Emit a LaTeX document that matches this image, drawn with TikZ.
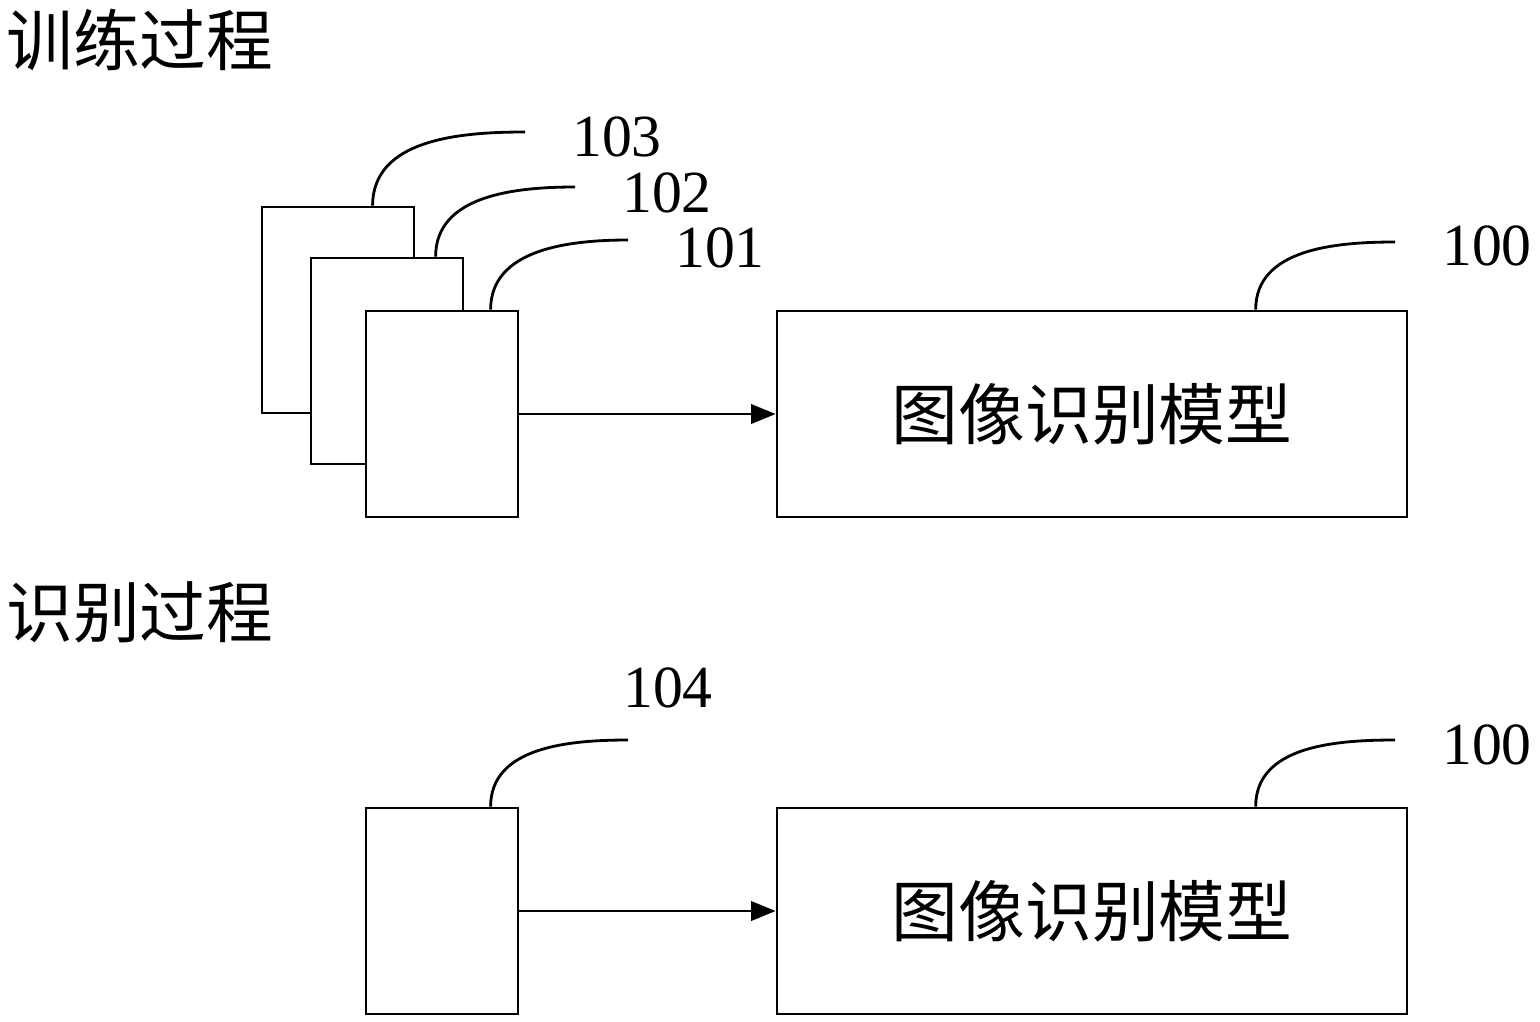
\documentclass[tikz,border=0pt]{standalone}
\usepackage{fontspec}
\setmainfont{Liberation Serif}
\newfontfamily\cjk{Noto Sans CJK SC}
\usetikzlibrary{positioning, arrows.meta}
\tikzset{
  card/.style={draw, line width=1.6pt, fill=white, minimum width=152\un, minimum height=206\un, inner sep=0pt},
  model/.style={draw, line width=1.6pt, minimum width=630\un, minimum height=206\un, font=\cjk\fontsize{38}{42}\selectfont},
  lead/.style={line width=1.6pt},
  num/.style={font=\fontsize{34}{37}\selectfont, inner sep=0pt},
  head/.style={font=\cjk\fontsize{38}{42}\selectfont, inner sep=0pt, anchor=west},
}
\def\un{mm*0.2}
\begin{document}
\begin{tikzpicture}[x=0.02cm, y=-0.02cm]
            \useasboundingbox (0,0) rectangle (1540,1021);
            \node [head] (T1) at (6,40) {训练过程};
            \node [head] (T2) at (6,612) {识别过程};
            \node [card] (C3) at (338,310) {};
            \node [card] (C2) at (387,361) {};
            \node [card] (C1) at (442,414) {};
            \node [model] (M1) at (1092,414) {图像识别模型};
            \node [card] (C4) at (442,911) {};
            \node [model] (M2) at (1092,911) {图像识别模型};

            \coordinate (E3) at (525,132);
            \coordinate (E2) at (575,187);
            \coordinate (E1) at (628,240);
            \coordinate (E0) at (1395,242);
            \coordinate (E4) at (628,740);
            \coordinate (E5) at (1395,740);
            \node [num] (L3) at (617,137) {103};
            \node [num] (L2) at (667,193) {102};
            \node [num] (L1) at (720,248) {101};
            \node [num] (L0) at (1487,246) {100};
            \node [num] (L4) at (668,688) {104};
            \node [num] (L5) at (1487,745) {100};

            \draw[lead] (C3.north west) ++(112,0) to[out=90, in=180] (E3);
            \draw[lead] (C2.north west) ++(126,0) to[out=90, in=180] (E2);
            \draw[lead] (C1.north west) ++(126,0) to[out=90, in=180] (E1);
            \draw[lead] (M1.north west) ++(480,0) to[out=90, in=180] (E0);
            \draw[lead] (C4.north west) ++(126,0) to[out=90, in=180] (E4);
            \draw[lead] (M2.north west) ++(480,0) to[out=90, in=180] (E5);

            \draw[lead, -{Triangle[length=14pt, width=11pt]}] (C1) -- (M1);
            \draw[lead, -{Triangle[length=14pt, width=11pt]}] (C4) -- (M2);
        \end{tikzpicture}
\end{document}
